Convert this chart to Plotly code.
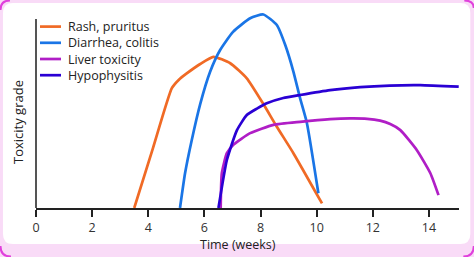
import plotly.graph_objects as go

# ---- data (weeks, arbitrary toxicity-grade units) ----
rash_x = [3.50, 4.17, 4.84, 5.10, 5.37, 5.85, 6.32, 6.92, 7.51, 8.10, 8.58, 9.17, 10.19]
rash_y = [0.00, 1.59, 3.17, 3.40, 3.56, 3.81, 4.00, 3.83, 3.43, 2.75, 2.15, 1.45, 0.12]

diarrhea_x = [5.13, 5.31, 5.55, 5.85, 6.20, 6.56, 7.02, 7.63, 8.10, 8.58, 8.88, 9.17, 9.41, 9.65, 10.06]
diarrhea_y = [0.00, 0.92, 1.80, 2.75, 3.60, 4.18, 4.66, 5.02, 5.12, 4.84, 4.31, 3.61, 2.90, 2.25, 0.39]

liver_x = [6.58, 6.62, 6.80, 7.03, 7.63, 8.46, 9.41, 10.48, 11.19, 11.80, 12.26, 12.62, 12.98, 13.57, 14.05, 14.34]
liver_y = [0.00, 0.92, 1.45, 1.67, 1.98, 2.20, 2.28, 2.35, 2.37, 2.36, 2.31, 2.22, 2.06, 1.53, 0.92, 0.34]

hypo_x = [6.50, 6.80, 7.16, 7.51, 7.87, 8.22, 8.81, 9.41, 10.48, 11.55, 12.60, 13.69, 15.06]
hypo_y = [0.00, 1.27, 2.06, 2.46, 2.63, 2.77, 2.91, 2.99, 3.12, 3.20, 3.24, 3.25, 3.21]

series_names = ["Rash, pruritus", "Diarrhea, colitis", "Liver toxicity", "Hypophysitis"]
series_colors = ["#f06a25", "#1a75e6", "#b01ec6", "#2a00d4"]
x_ticks = [0, 2, 4, 6, 8, 10, 12, 14]
x_title = "Time (weeks)"
y_title = "Toxicity grade"

# ---- layout geometry (pixels) ----
W, H = 474, 257
L, R, T, B = 36, 15.3, 10, 49
PW, PH = W - L - R, H - T - B
XMAX = 15.07
YMAX = PH / 37.8
FONT = "Open Sans"
FS = 12.5
ROW = 16.2


def px_to_paper_x(px):
    return (px - L) / PW


def py_to_paper_y(py):
    return (H - B - py) / PH


fig = go.Figure()
for xs, ys, name, col in zip([rash_x, diarrhea_x, liver_x, hypo_x],
                              [rash_y, diarrhea_y, liver_y, hypo_y],
                              series_names, series_colors):
    fig.add_trace(go.Scatter(x=xs, y=ys, name=name, mode="lines",
                             line=dict(color=col, width=2.7, shape="spline", smoothing=0.5),
                             showlegend=False, hoverinfo="skip"))

shapes = []


def card_path(x0, y0, x1, y1, r):
    P = lambda a, b: f"{px_to_paper_x(a):.5f},{py_to_paper_y(b):.5f}"
    return (f"M{P(x0 + r, y0)} L{P(x1 - r, y0)} Q{P(x1, y0)} {P(x1, y0 + r)} "
            f"L{P(x1, y1 - r)} Q{P(x1, y1)} {P(x1 - r, y1)} L{P(x0 + r, y1)} "
            f"Q{P(x0, y1)} {P(x0, y1 - r)} L{P(x0, y0 + r)} Q{P(x0, y0)} {P(x0 + r, y0)} Z")


shapes.append(dict(type="path", xref="paper", yref="paper", layer="below",
                   path=card_path(3, 3, 470, 244, 10), fillcolor="white", line=dict(width=0)))


def arc(a, b, c):
    P = lambda p: f"{px_to_paper_x(p[0]):.5f},{py_to_paper_y(p[1]):.5f}"
    return f"M{P(a)} Q{P(b)} {P(c)}"


for a, b, c in [((0.5, 10), (0.5, 0.5), (10, 0.5)),
                ((464, 0.5), (473.5, 0.5), (473.5, 8)),
                ((0.5, 246), (0.5, 256.5), (11, 256.5)),
                ((473.5, 246), (473.5, 256.5), (463, 256.5))]:
    shapes.append(dict(type="path", xref="paper", yref="paper", layer="below",
                       path=arc(a, b, c), line=dict(color="#e040dc", width=2)))

# y axis line (shorter than plot area)
shapes.append(dict(type="line", xref="paper", yref="paper",
                   x0=0, x1=0, y0=0, y1=py_to_paper_y(19),
                   line=dict(color="#555555", width=2)))

annotations = []
# legend: line samples + one multi-line label block
y_first = 26.6
for i, col in enumerate(series_colors):
    yc = y_first + ROW * i
    shapes.append(dict(type="line", xref="paper", yref="paper",
                       x0=px_to_paper_x(40), x1=px_to_paper_x(61),
                       y0=py_to_paper_y(yc), y1=py_to_paper_y(yc),
                       line=dict(color=col, width=2.7)))
annotations.append(dict(xref="paper", yref="paper", x=px_to_paper_x(65.5),
                        y=py_to_paper_y(y_first + ROW * (len(series_names) - 1) / 2),
                        text="<br>".join(series_names), showarrow=False, align="left",
                        xanchor="left", yanchor="middle",
                        font=dict(family=FONT, size=FS, color="#222222")))

annotations.append(dict(xref="paper", yref="paper", x=px_to_paper_x(18), y=py_to_paper_y(122),
                        text=y_title, textangle=-90, showarrow=False,
                        xanchor="center", yanchor="middle",
                        font=dict(family=FONT, size=13, color="#222222")))
annotations.append(dict(xref="paper", yref="paper", x=px_to_paper_x(237.7), y=py_to_paper_y(244.5),
                        text=x_title, showarrow=False, xanchor="center", yanchor="middle",
                        font=dict(family=FONT, size=12.5, color="#222222")))

fig.update_layout(
    width=W, height=H,
    margin=dict(l=L, r=R, t=T, b=B),
    paper_bgcolor="#f9dbf7",
    plot_bgcolor="rgba(0,0,0,0)",
    shapes=shapes, annotations=annotations,
    xaxis=dict(range=[0, XMAX], tickvals=x_ticks, ticktext=[str(v) for v in x_ticks],
               showgrid=False, zeroline=False, showline=True, linecolor="#222222", linewidth=1.6,
               ticks="outside", ticklen=7, tickwidth=1.6, tickcolor="#222222",
               tickfont=dict(family=FONT, size=12.5, color="#333333"), fixedrange=True),
    yaxis=dict(range=[0, YMAX], showgrid=False, zeroline=False, showline=False,
               showticklabels=False, ticks="", fixedrange=True),
    showlegend=False,
)

fig.write_html("out.html")
